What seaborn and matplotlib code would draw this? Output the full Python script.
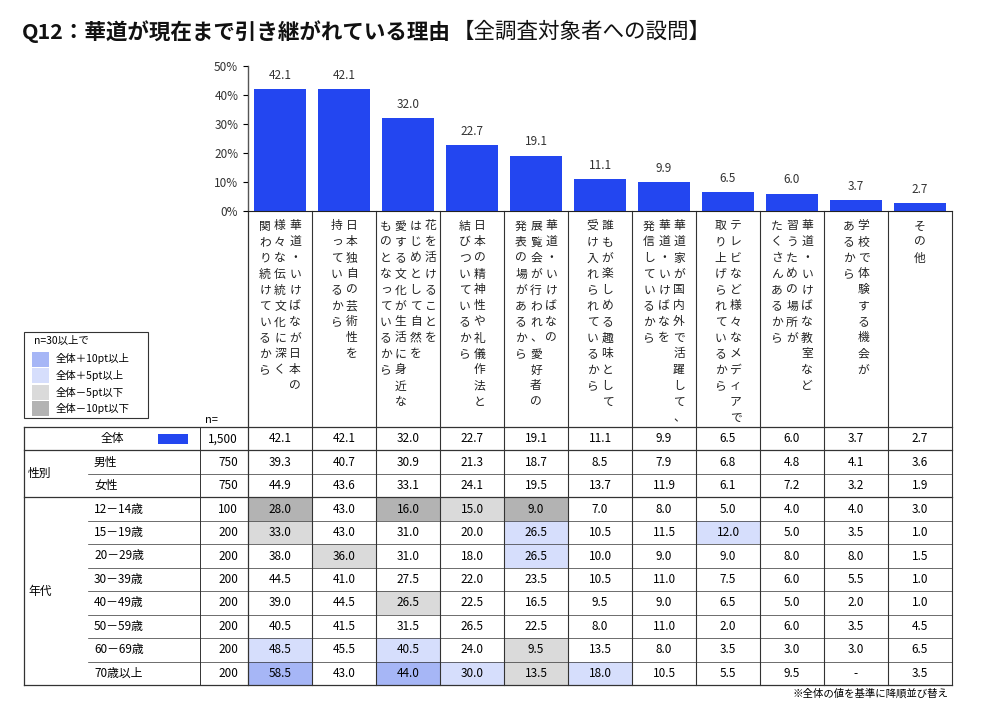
import numpy as np
import pandas as pd
import matplotlib
matplotlib.use("Agg")
import matplotlib.pyplot as plt
import seaborn as sns
from matplotlib.patches import Rectangle

plt.rcParams["font.family"] = "Noto Sans CJK JP"

# ---- data ----
cat_lines = [
    ["華道・いけばなが日本の", "様々な伝統文化に深く", "関わり続けているから"],
    ["日本独自の芸術性を", "持っているから"],
    ["花を活けることを", "はじめとして自然を", "愛する文化が生活に身近な", "ものとなっているから"],
    ["日本の精神性や礼儀作法と", "結びついているから"],
    ["華道・いけばなの", "展覧会が行われ、愛好者の", "発表の場があるから"],
    ["誰もが楽しめる趣味として", "受け入れられているから"],
    ["華道家が国内外で活躍して、", "華道・いけばなを", "発信しているから"],
    ["テレビなど様々なメディアで", "取り上げられているから"],
    ["華道・いけばな教室など", "習うための場所が", "たくさんあるから"],
    ["学校で体験する機会が", "あるから"],
    ["その他"],
]
total = [42.1, 42.1, 32.0, 22.7, 19.1, 11.1, 9.9, 6.5, 6.0, 3.7, 2.7]

row_labels = ["男性", "女性", "12－14歳", "15－19歳", "20－29歳", "30－39歳",
              "40－49歳", "50－59歳", "60－69歳", "70歳以上"]
row_n = [750, 750, 100, 200, 200, 200, 200, 200, 200, 200]
rows = [
    [39.3, 40.7, 30.9, 21.3, 18.7, 8.5, 7.9, 6.8, 4.8, 4.1, 3.6],
    [44.9, 43.6, 33.1, 24.1, 19.5, 13.7, 11.9, 6.1, 7.2, 3.2, 1.9],
    [28.0, 43.0, 16.0, 15.0, 9.0, 7.0, 8.0, 5.0, 4.0, 4.0, 3.0],
    [33.0, 43.0, 31.0, 20.0, 26.5, 10.5, 11.5, 12.0, 5.0, 3.5, 1.0],
    [38.0, 36.0, 31.0, 18.0, 26.5, 10.0, 9.0, 9.0, 8.0, 8.0, 1.5],
    [44.5, 41.0, 27.5, 22.0, 23.5, 10.5, 11.0, 7.5, 6.0, 5.5, 1.0],
    [39.0, 44.5, 26.5, 22.5, 16.5, 9.5, 9.0, 6.5, 5.0, 2.0, 1.0],
    [40.5, 41.5, 31.5, 26.5, 22.5, 8.0, 11.0, 2.0, 6.0, 3.5, 4.5],
    [48.5, 45.5, 40.5, 24.0, 9.5, 13.5, 8.0, 3.5, 3.0, 3.0, 6.5],
    [58.5, 43.0, 44.0, 30.0, 13.5, 18.0, 10.5, 5.5, 9.5, None, 3.5],
]

BLUE = "#2346f0"
C_UP10, C_UP5, C_DN5, C_DN10 = "#a6b6f6", "#d6defc", "#dadada", "#b3b3b3"

W, H = 984, 728
fig = plt.figure(figsize=(W / 100, H / 100), dpi=100)
bg = fig.add_axes([0, 0, 1, 1])
bg.set_xlim(0, W)
bg.set_ylim(H, 0)
bg.axis("off")

# ---- bar chart ----
X0, X1, YT, YB = 248, 952, 66, 211
ax = fig.add_axes([X0 / W, 1 - YB / H, (X1 - X0) / W, (YB - YT) / H])
ax.patch.set_alpha(0)
df = pd.DataFrame({"cat": [str(i) for i in range(len(total))], "v": total})
sns.barplot(data=df, x="cat", y="v", color=BLUE, saturation=1, width=0.8, ax=ax)
ax.set_xlim(-0.5, len(total) - 0.5)
ax.set_ylim(0, 50)
ax.set_yticks(range(0, 51, 10))
ax.set_yticklabels([f"{t}%" for t in range(0, 51, 10)], fontsize=8.5, color="#333333")
ax.set_xticks([])
ax.set_xlabel("")
ax.set_ylabel("")
for s in ["top", "right"]:
    ax.spines[s].set_visible(False)
ax.spines["left"].set_color("#555555")
ax.spines["bottom"].set_color("#222222")
for i, v in enumerate(total):
    ax.text(i, v + 2.5, f"{v:.1f}", ha="center", va="bottom", fontsize=8.5, color="#333333")

# title
t1 = bg.text(22, 32, "Q12：華道が現在まで引き継がれている理由", fontsize=15.5, fontweight="bold",
             va="center", ha="left", color="#111111")
fig.canvas.draw()
ext = t1.get_window_extent()
bg.text(ext.x1 + 2, 32, "【全調査対象者への設問】", fontsize=15.5, va="center", ha="left",
        color="#111111", transform=None if False else bg.transData)
bg.texts[-1].set_x(ext.x1 + 2)

# ---- vertical category labels ----
CW = (X1 - X0) / len(total)
for i, lines in enumerate(cat_lines):
    cx = X0 + CW * (i + 0.5)
    n = len(lines)
    for j, line in enumerate(lines):
        lx = cx + (n - 1) / 2 * 15 - j * 15
        for k, ch in enumerate(line):
            bg.text(lx, 226 + k * 16, ch, fontsize=8.5, ha="center", va="center", color="#222222")

# ---- table ----
TT, TB = 427, 685
rh = (TB - TT) / 11
lc = "#333333"
for r, vals in enumerate(rows):
    y0 = TT + rh * (r + 1)
    for c, v in enumerate(vals):
        if v is None:
            continue
        d = v - total[c]
        col = C_UP10 if d >= 10 else C_UP5 if d >= 5 else C_DN10 if d <= -10 else C_DN5 if d <= -5 else None
        if col:
            bg.add_patch(Rectangle((X0 + CW * c, y0), CW, rh, color=col, lw=0))
yc = TT + rh / 2
bg.text(112, yc, "全体", fontsize=8.5, ha="center", va="center")
bg.add_patch(Rectangle((158, yc - 5), 30, 10, color=BLUE, lw=0))
bg.text(238, yc, "1,500", fontsize=8.5, ha="right", va="center")
for c, v in enumerate(total):
    bg.text(X0 + CW * (c + 0.5), yc, f"{v:.1f}", fontsize=8.5, ha="center", va="center")
for r, (lab, n, vals) in enumerate(zip(row_labels, row_n, rows)):
    yc = TT + rh * (r + 1.5)
    bg.text(94, yc, lab, fontsize=8.5, ha="left", va="center")
    bg.text(238, yc, str(n), fontsize=8.5, ha="right", va="center")
    for c, v in enumerate(vals):
        bg.text(X0 + CW * (c + 0.5), yc, "-" if v is None else f"{v:.1f}",
                fontsize=8.5, ha="center", va="center")
bg.text(28, TT + rh * 2, "性別", fontsize=8.5, ha="left", va="center")
bg.text(28, TT + rh * 7, "年代", fontsize=8.5, ha="left", va="center")
for r in range(12):
    y = TT + rh * r
    full = r in (0, 1, 3, 11)
    bg.plot([24 if full else 88, X1], [y, y], color=lc, lw=0.9 if full else 0.5)
bg.plot([24, 24], [TT, TB], color=lc, lw=0.9)
bg.plot([200, 200], [TT, TB], color=lc, lw=0.7)
bg.plot([X0, X0], [YT, TB], color=lc, lw=0.9)
for c in range(1, len(total) + 1):
    bg.plot([X0 + CW * c] * 2, [YB, TB], color=lc, lw=0.8)
bg.text(205, 420, "n=", fontsize=8, ha="left", va="center")

# legend box
bg.add_patch(Rectangle((24, 332), 124, 86, fill=False, ec=lc, lw=0.8))
bg.text(34, 341, "n=30以上で", fontsize=7.5, ha="left", va="center")
for k, (col, lab) in enumerate([(C_UP10, "全体＋10pt以上"), (C_UP5, "全体＋5pt以上"),
                                (C_DN5, "全体－5pt以下"), (C_DN10, "全体－10pt以下")]):
    y = 359 + k * 16.5
    bg.add_patch(Rectangle((32, y - 7.5), 17, 15, color=col, lw=0))
    bg.text(56, y, lab, fontsize=7.5, ha="left", va="center")

bg.text(948, 694, "※全体の値を基準に降順並び替え", fontsize=7.5, ha="right", va="center")

fig.savefig("out.png", dpi=100)
